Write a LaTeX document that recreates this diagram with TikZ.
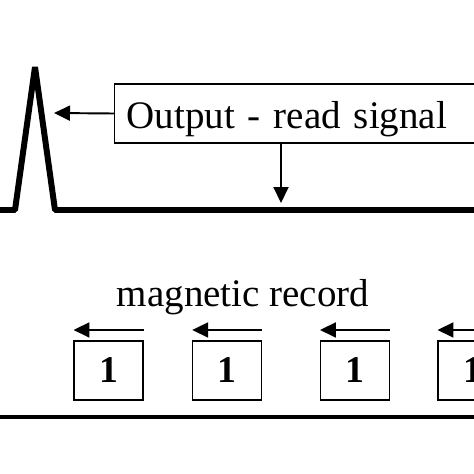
\documentclass[tikz,border=0pt]{standalone}
\usepackage{fontspec}
\setmainfont{Liberation Serif}
\usetikzlibrary{arrows.meta,positioning}

\tikzset{
  sig/.style={line width=3.4pt, line join=bevel},
  bitbox/.style={draw, line width=0.6pt, minimum width=1.38cm, minimum height=1.18cm,
    inner sep=0pt, font=\fontsize{21.5}{24}\selectfont\bfseries},
  larr/.style={line width=1.1pt, -{Triangle[length=0.32cm,width=0.3cm]}},
  bigtext/.style={font=\fontsize{22.2}{26}\selectfont}
}

\begin{document}
\begin{tikzpicture}[x=0.02cm,y=-0.02cm]
\useasboundingbox (0,0) rectangle (474,474);
\clip (0,0) rectangle (474,474);

% read signal
\draw[sig] (-5,210) -- (15,210) -- (35,67) -- (55,210) -- (480,210);
\coordinate (peak) at (54,113);
\coordinate (flat) at (281,203);

\node[draw, line width=0.6pt, anchor=west, bigtext, text width=7.5cm, align=left,
    inner xsep=0.24cm, minimum height=1.18cm, text height=0.7cm, text depth=0.12cm]
    (lbl) at (114,113.5) {Output - read signal};
\draw[larr] (lbl.west) -- (peak);
\draw[larr] (lbl.south -| flat) -- (flat);

% magnetic record
\node[bigtext, anchor=base] (rec) at (243,306) {magnetic record};

\node[bitbox] (b1) at (108.5,370.5) {1};
\node[bitbox] (b2) at (227.2,370.5) {1};
\node[bitbox] (b3) at (355,370.5) {1};
\node[bitbox] (b4) at (472.5,370.5) {1};

\foreach \b in {b1,b2,b3,b4}
  \draw[larr] ([yshift=0.21cm]\b.north east) -- ([yshift=0.21cm]\b.north west);

\draw[line width=2.3pt] (-5,417) -- (480,417);
\end{tikzpicture}
\end{document}
